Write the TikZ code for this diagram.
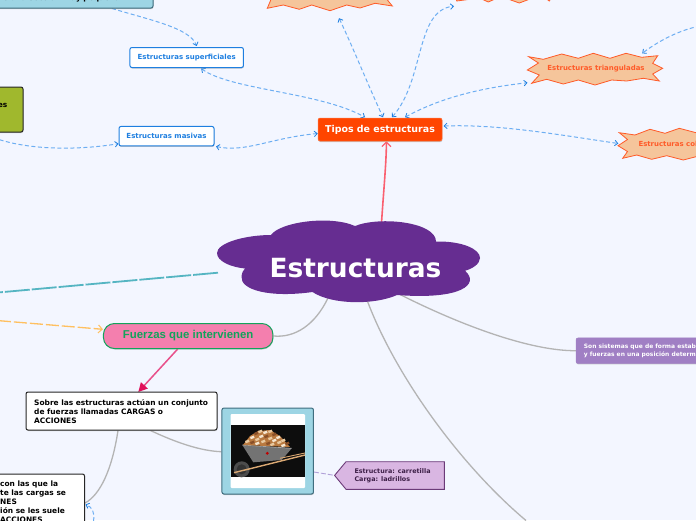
\documentclass[tikz,border=0pt]{standalone}
\usepackage{fontspec}
\setmainfont{DejaVu Sans}
\newfontfamily\arialbold{Liberation Sans}[Scale=1]
\usetikzlibrary{arrows.meta,calc,shadows}
\definecolor{bgc}{HTML}{F3F6FF}
\definecolor{dashblue}{HTML}{6DAEF2}
\definecolor{tipblue}{HTML}{1E7FE0}
\definecolor{linkgray}{HTML}{B4B4B4}
\definecolor{cloudp}{HTML}{662D91}
\definecolor{orangeb}{HTML}{FF4500}
\definecolor{starfill}{HTML}{F5C59B}
\definecolor{starline}{HTML}{FF5A28}
\definecolor{pinkf}{HTML}{F47FAE}
\definecolor{greent}{HTML}{12A35B}
\definecolor{cyanf}{HTML}{9DD5E4}
\definecolor{cyand}{HTML}{3F6E80}
\definecolor{limef}{HTML}{A0B82D}
\definecolor{lilac}{HTML}{D9B6E2}
\definecolor{lilacd}{HTML}{6B3A78}
\definecolor{lilact}{HTML}{3D1F47}
\definecolor{sysp}{HTML}{A07FC4}
\definecolor{tealc}{HTML}{55B5C2}
\definecolor{amberc}{HTML}{FFC060}
\definecolor{redl}{HTML}{FA6070}
\definecolor{magl}{HTML}{E8508A}
\definecolor{magt}{HTML}{E0105A}
\definecolor{dashp}{HTML}{B0A0D8}
\definecolor{brickA}{HTML}{E8C9A0}
\definecolor{brickB}{HTML}{B9793F}
\definecolor{brickC}{HTML}{8A5028}
\definecolor{brickD}{HTML}{F5E6D0}
\definecolor{handle}{HTML}{D9A873}
\pgfdeclarelayer{under}
\pgfsetlayers{under,main}
\tikzset{
 x=1pt,y=-1pt,
 barbtip/.tip={Straight Barb[length=3pt,width=5.5pt,color=tipblue,line width=0.8pt]},
 dashlink/.style={draw=dashblue,line width=1pt,dash pattern=on 4pt off 2.5pt,barbtip-barbtip},
 dashone/.style={draw=dashblue,line width=1pt,dash pattern=on 4pt off 2.5pt,-barbtip},
 graylink/.style={draw=linkgray,line width=1.3pt},
 softshadow/.style={drop shadow={shadow xshift=0.4pt,shadow yshift=-1pt,fill=black!35,opacity=0.6}},
 bluebox/.style={draw=tipblue,line width=1pt,fill=white,rounded corners=2pt,text=tipblue,font=\fontsize{7}{9}\selectfont\bfseries,inner sep=0pt,softshadow},
 whitebox/.style={draw=black!85,line width=1pt,fill=white,rounded corners=2pt,inner sep=0pt,softshadow},
 startext/.style={text=starline,font=\fontsize{6.95}{9}\selectfont\bfseries,inner sep=0pt},
 starshape/.style={draw=starline,line width=0.8pt,fill=starfill},
 plaintext/.style={inner sep=0pt,font=\fontsize{7.45}{9}\selectfont\bfseries,align=left},
}
\begin{document}
\begin{tikzpicture}
\useasboundingbox (0,0) rectangle (696,520);

% ---------- stars
\path[starshape] (272,-3) -- (267.3,8.3) -- (283.3,5) -- (299.3,9.3) -- (311.7,5) -- (330,10.7) -- (346.7,5) -- (360,8) -- (375,3.3) -- (392.3,6) -- (385,-3) -- cycle;
\path[starshape] (456,-3) -- (456.7,1) -- (472,-1) -- (481.7,-1) -- (488.3,2) -- (495,-1) -- (508,-1) -- (519.3,3) -- (530,-1) -- (546.7,-1) -- (549.3,1) -- (552,-3) -- cycle;
\path[starshape] (527.3,70) -- (538.5,63) -- (528.7,56.7) -- (543.3,59.3) -- (561.7,54) -- (578.3,58.3) -- (593.3,53.3) -- (610,58.3) -- (626,53.3) -- (641.7,57.3) -- (657.7,55.7) -- (652.7,63.3) -- (662.7,68.3) -- (652.7,74) -- (659.3,81) -- (643.3,78.3) -- (626.7,81) -- (611.7,80) -- (595,85) -- (578.3,80) -- (563.3,84) -- (546.7,79.3) -- (531.7,83.3) -- (539.3,75) -- cycle;
\path[starshape] (618,145.7) -- (627.5,139.5) -- (619.3,132.7) -- (635,135) -- (650,129.3) -- (665,133.3) -- (679.3,128.3) -- (696,132.7) -- (705,134) -- (705,156) -- (696,156.7) -- (683.3,160) -- (666.7,155.7) -- (651.7,159.3) -- (636.7,155) -- (622.7,158.3) -- (627.5,151.5) -- cycle;

\node[startext,minimum width=124pt,minimum height=16pt] (starA) at (330,-6) {};
\node[startext,minimum width=100pt,minimum height=8pt] (starB) at (504,-3) {};
\node[startext,minimum width=136pt,minimum height=28pt] (startri) at (596,68.5) {Estructuras trianguladas};
\node[startext,anchor=west,minimum height=28pt] (starcol) at (638.3,143.5) {Estructuras col};

% ---------- cloud
\fill[cloudp] (217,253)
 .. controls (217,243) and (245,235) .. (271,235)
 .. controls (280,222) and (330,215) .. (355,226)
 .. controls (380,216) and (436,222) .. (436,241.5)
 .. controls (462,241) and (480,249) .. (480,258)
 .. controls (480,264) and (472,269) .. (465,270.7)
 .. controls (480,284) and (462,300) .. (397,295)
 .. controls (375,305) and (332,305) .. (312.5,292)
 .. controls (270,298) and (240,290) .. (241.5,276.5)
 .. controls (242,273) and (243,270) .. (245,268.5)
 .. controls (230,267) and (217,261) .. (217,253) -- cycle;
\node[text=white,font=\fontsize{26.4}{30}\selectfont\bfseries,inner sep=0pt,minimum width=171pt,minimum height=30pt] (cloud) at (355.5,268) {Estructuras};

% ---------- boxes
\node[draw=orangeb!75!white,line width=0.5pt,fill=orangeb,rounded corners=2pt,text=white,font=\fontsize{9.45}{12}\selectfont\bfseries,inner sep=0pt,minimum width=124pt,minimum height=23pt,softshadow] (tipos) at (380,129.5) {Tipos de estructuras};
\node[bluebox,minimum width=113.5pt,minimum height=20pt] (superf) at (186.7,57.5) {Estructuras superficiales};
\node[bluebox,minimum width=95pt,minimum height=19.5pt] (masivas) at (166.5,136.2) {Estructuras masivas};

\node[draw=cyand,line width=1pt,fill=cyanf,rounded corners=2pt,inner sep=0pt,minimum width=213pt,minimum height=48pt,softshadow] (cyantop) at (46.5,-16) {};
\node[plaintext,anchor=west] (cyantext) at (3,-2) {e una sección muy pequeña.};

\node[draw=black!85,line width=1pt,fill=limef,rounded corners=2pt,inner sep=0pt,minimum width=83pt,minimum height=45pt,softshadow] (lime) at (-18.5,109.5) {};
\node[plaintext,anchor=east] (limetext) at (7.5,105) {es};

\node[draw=greent,line width=1pt,fill=pinkf,rounded corners=11pt,text=greent,font=\arialbold\fontsize{11.4}{12}\selectfont\bfseries,inner sep=0pt,minimum width=169.5pt,minimum height=25pt,softshadow] (fuerzas) at (188.2,336) {Fuerzas que intervienen};

\node[whitebox,minimum width=191pt,minimum height=38pt] (sobre) at (121.5,411) {};
\node[plaintext,anchor=west] (sobretext) at (34,411.5) {Sobre las estructuras actúan un conjunto\\de fuerzas llamadas CARGAS o\\ACCIONES};

\node[whitebox,minimum width=105pt,minimum height=80pt] (reac) at (32,514) {};
\node[plaintext,anchor=north west] (reactext) at (0,480.2) {con las que la\\te las cargas se\\NES\\ión se les suele\\ACCIONES};

\node[draw=sysp,fill=sysp,line width=0.5pt,rounded corners=2pt,inner sep=0pt,minimum width=130pt,minimum height=25.5pt,softshadow] (sys) at (641,350.7) {};
\node[plaintext,text=white,anchor=west,font=\fontsize{5.95}{8.2}\selectfont\bfseries] (systext) at (583.7,350.7) {Son sistemas que de forma estab\\y fuerzas en una posición determ};

% image card
\node[draw=cyand,line width=1pt,fill=cyanf,rounded corners=2pt,inner sep=0pt,minimum width=91.5pt,minimum height=86pt,softshadow] (card) at (267.7,451) {};
\fill[white,rounded corners=1pt] (230.7,414) rectangle (305,488);
\fill[black!95] (231,425) rectangle (305,476.5);
% wheelbarrow picture
\fill[black!70] (241.7,469.3) circle (8);
\fill[black!80] (241.7,469.3) circle (5);
\fill[black!55] (242.3,445) -- (291.7,448.3) -- (281.7,460) -- (253.3,462.3) -- cycle;
\draw[black!35,line width=0.7pt] (242.3,445) -- (291.7,448.3);
\fill[brickB] (243,445) -- (250,436) -- (258,431) -- (270,430) -- (280,436) -- (290,447) -- cycle;
\foreach \bx/\by/\bc in {245/441/brickA,250/437/brickD,254/433/brickC,258/431/brickA,263/432/brickD,268/431/brickA,272/434/brickC,276/437/brickD,281/440/brickA,285/443/brickC,250/442/brickC,255/439/brickA,259/436/brickD,264/436/brickC,268/438/brickA,272/440/brickD,277/442/brickA,255/443/brickD,261/441/brickA,266/443/brickC,281/445/brickD,270/444/brickA}{
 \fill[\bc,rotate around={20:(\bx,\by)}] (\bx,\by) rectangle +(4,2.4);
}
\fill[red!75!black] (267.3,453.3) circle (1.6);
\draw[handle,line width=1.4pt] (234,472.7) -- (305,455);
\draw[handle,line width=0.9pt] (280,458.3) -- (305,453);

% lilac note
\path[draw=lilacd,line width=0.9pt,fill=lilac] (334.6,475.4) -- (346,461.7) -- (444.3,461.7) -- (444.3,489.3) -- (346,489.3) -- cycle;
\node[plaintext,text=lilact,anchor=west,font=\fontsize{6.4}{8}\selectfont\bfseries] (note) at (354.3,475.5) {Estructura: carretilla\\Carga: ladrillos};
\coordinate (notetip) at (334.6,475.4);

% free ends
\coordinate (tealend) at (-2,292.5);
\coordinate (amberstart) at (-2,320.6);
\coordinate (lowend) at (526,520.5);
\coordinate (loopstart) at (93.5,521);
\coordinate (rightstart) at (700,26);

% ---------- connectors
\begin{pgfonlayer}{under}
\fill[bgc] (0,0) rectangle (696,520);
\draw[dashone] ($(cyantop.south)+(65.5,0)$) .. controls (150,20) and (190,28) .. ($(superf.north)+(10,-1)$);
\draw[dashlink] ($(superf.south)+(14.5,0.5)$) .. controls (230,90) and (320,92) .. ($(tipos.north)+(-15,-0.5)$);
\draw[dashone] (lime.south) .. controls (20,152) and (80,150) .. ($(masivas.west)+(0,7.5)$);
\draw[dashlink] ($(masivas.south east)+(1.5,0)$) .. controls (245,153) and (270,138) .. ($(tipos.west)+(0,4)$);
\draw[dashlink] ($(starA.south)+(9,16)$) .. controls (352,45) and (368,85) .. ($(tipos.north)+(3,-0.5)$);
\draw[dashlink] ($(tipos.north)+(12,-0.5)$) .. controls (425,80) and (415,10) .. ($(starB.south)+(-50,5)$);
\draw[dashlink] ($(tipos.north)+(25,-0.5)$) .. controls (440,98) and (480,88) .. ($(startri.south west)+(-0.3,0)$);
\draw[dashlink] ($(tipos.east)+(1.3,-3.5)$) .. controls (500,124) and (560,135) .. ($(starcol.west)+(-20,0)$);
\draw[dashone] (rightstart) .. controls (680,30) and (660,40) .. ($(startri.north east)+(-22,-1)$);
\draw[dashone] (loopstart) .. controls (95,512) and (92,507) .. ($(reac.east)+(0.5,-9.5)$);
\draw[draw=redl,line width=1.6pt,-{Straight Barb[length=4.5pt,width=9pt,line width=1.2pt]}] ($(cloud.north)+(24.5,-6)$) .. controls (383,195) and (386,170) .. ($(tipos.south)+(6.5,0)$);
\draw[draw=tealc,line width=1.8pt,dash pattern=on 25pt off 2pt] (218,272.7) -- (tealend);
\draw[draw=amberc,line width=1.3pt,dash pattern=on 13pt off 3pt,-{Straight Barb[length=4pt,width=8pt,line width=1pt]}] (amberstart) -- ($(fuerzas.west)+(0,-6.7)$);
\draw[graylink] (fuerzas.east) .. controls (295,338) and (315,325) .. (328,298);
\draw[draw=magl,line width=1.5pt,-{Triangle[length=9pt,width=9pt,color=magt]}] ($(fuerzas.south)+(-10.5,0)$) -- ($(sobre.north)+(16.8,0.5)$);
\draw[graylink] ($(sobre.south)+(29,0)$) .. controls (175,442) and (200,451) .. ($(card.west)+(0,0.7)$);
\draw[graylink] ($(sobre.south)+(-3.5,0)$) .. controls (112,470) and (100,495) .. ($(reac.east)+(0,-11)$);
\draw[graylink] (397,293) .. controls (460,325) and (530,351) .. (sys.west);
\draw[graylink] (367,300) .. controls (395,375) and (460,465) .. (lowend);
\draw[draw=dashp,line width=0.9pt,dash pattern=on 5pt off 2pt] ($(card.east)+(0,21)$) -- (notetip);
\end{pgfonlayer}
\end{tikzpicture}
\end{document}
